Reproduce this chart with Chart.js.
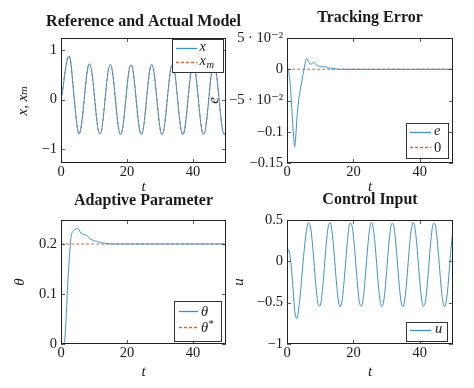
<!DOCTYPE html>
<html>
<head>
<meta charset="utf-8">
<script src="https://cdn.jsdelivr.net/npm/chart.js@4.4.1/dist/chart.umd.min.js"></script>
<style>
html,body{margin:0;padding:0;background:#fff;}
#wrap{position:relative;width:474px;height:388px;overflow:hidden;background:#fff;}
#wrap canvas{position:absolute;left:0;top:0;}
</style>
</head>
<body>
<div id="wrap">
<canvas id="c1" width="474" height="388"></canvas>
<canvas id="c2" width="474" height="388"></canvas>
<canvas id="c3" width="474" height="388"></canvas>
<canvas id="c4" width="474" height="388"></canvas>
</div>
<script>
// ---------------- data ----------------
const tSim = [0,0.5,1,1.5,2,2.5,3,3.5,4,4.5,5,5.5,6,6.5,7,7.5,8,8.5,9,9.5,10,10.5,11,11.5,12,12.5,13,13.5,14,14.5,15,15.5,16,16.5,17,17.5,18,18.5,19,19.5,20,20.5,21,21.5,22,22.5,23,23.5,24,24.5,25,25.5,26,26.5,27,27.5,28,28.5,29,29.5,30,30.5,31,31.5,32,32.5,33,33.5,34,34.5,35,35.5,36,36.5,37,37.5,38,38.5,39,39.5,40,40.5,41,41.5,42,42.5,43,43.5,44,44.5,45,45.5,46,46.5,47,47.5,48,48.5,49,49.5,50];

const xActual = [0,0.18,0.43,0.66,0.82,0.87,0.73,0.38,0.02,-0.325,-0.583,-0.69,-0.584,-0.343,-0.022,0.319,0.591,0.719,0.676,0.473,0.159,-0.193,-0.494,-0.672,-0.684,-0.528,-0.240,0.106,0.429,0.646,0.705,0.592,0.335,-0.005,-0.343,-0.598,-0.706,-0.641,-0.419,-0.095,0.252,0.538,0.692,0.677,0.496,0.193,-0.157,-0.468,-0.665,-0.699,-0.562,-0.287,0.058,0.389,0.624,0.707,0.617,0.375,0.042,-0.301,-0.571,-0.701,-0.659,-0.456,-0.141,0.208,0.507,0.681,0.689,0.528,0.238,-0.111,-0.432,-0.647,-0.704,-0.589,-0.329,0.011,0.349,0.601,0.706,0.638,0.414,0.089,-0.258,-0.542,-0.693,-0.675,-0.491,-0.187,0.163,0.473,0.667,0.698,0.558,0.281,-0.064,-0.394,-0.627,-0.707,-0.614];

const xModel = [0,0.20,0.47,0.70,0.85,0.88,0.72,0.40,0.04,-0.31,-0.58,-0.70,-0.60,-0.355,-0.03,0.31,0.58,0.71,0.67,0.468,0.154,-0.197,-0.498,-0.676,-0.687,-0.530,-0.242,0.105,0.428,0.645,0.705,0.592,0.335,-0.005,-0.343,-0.598,-0.706,-0.641,-0.419,-0.095,0.252,0.538,0.692,0.677,0.496,0.193,-0.157,-0.468,-0.665,-0.699,-0.562,-0.287,0.058,0.389,0.624,0.707,0.617,0.375,0.042,-0.301,-0.571,-0.701,-0.659,-0.456,-0.141,0.208,0.507,0.681,0.689,0.528,0.238,-0.111,-0.432,-0.647,-0.704,-0.589,-0.329,0.011,0.349,0.601,0.706,0.638,0.414,0.089,-0.258,-0.542,-0.693,-0.675,-0.491,-0.187,0.163,0.473,0.667,0.698,0.558,0.281,-0.064,-0.394,-0.627,-0.707,-0.614];

const uInput = [0.10,0.14,0.04,-0.16,-0.43,-0.65,-0.69,-0.58,-0.40,-0.17,0.06,0.26,0.40,0.467,0.430,0.279,0.049,-0.203,-0.415,-0.535,-0.534,-0.412,-0.199,0.053,0.282,0.432,0.467,0.377,0.186,-0.061,-0.303,-0.480,-0.550,-0.494,-0.328,-0.091,0.159,0.360,0.463,0.443,0.304,0.082,-0.171,-0.391,-0.525,-0.541,-0.434,-0.231,0.020,0.255,0.418,0.469,0.396,0.215,-0.028,-0.274,-0.462,-0.548,-0.509,-0.355,-0.124,0.127,0.338,0.456,0.452,0.329,0.114,-0.138,-0.366,-0.514,-0.546,-0.455,-0.262,-0.014,0.227,0.403,0.470,0.412,0.244,0.006,-0.243,-0.443,-0.543,-0.521,-0.381,-0.157,0.095,0.314,0.447,0.460,0.351,0.146,-0.104,-0.339,-0.500,-0.549,-0.473,-0.292,-0.048,0.198,0.385];

const tErr = [0,0.5,1,1.5,2,2.3,2.6,3,3.5,4,4.5,5,5.5,5.9,6.5,7,7.5,8,8.5,9,9.5,10,10.5,11,11.5,12,12.5,13,13.5,14,14.5,15,15.5,16,50];
const errVals = [0,-0.004,-0.025,-0.068,-0.108,-0.124,-0.11,-0.078,-0.05,-0.033,-0.018,-0.003,0.01,0.017,0.012,0.008,0.009,0.011,0.009,0.006,0.005,0.005,0.004,0.004,0.004,0.003,0.002,0.002,0.001,0.001,0.001,0.0005,0,0,0];

const tTheta = [0,0.5,1,1.5,2,2.5,3,3.5,4,4.5,5,5.5,6,6.5,7,7.5,8,8.5,9,9.5,10,10.5,11,11.5,12,12.5,13,13.5,14,14.5,15,15.5,16,50];
const thetaVals = [0,0,0.003,0.045,0.115,0.17,0.212,0.225,0.228,0.23,0.232,0.228,0.222,0.22,0.219,0.218,0.216,0.213,0.21,0.208,0.206,0.206,0.205,0.204,0.203,0.202,0.202,0.201,0.201,0.2005,0.2,0.2,0.2,0.2];

const tRef = [0,50];
const zeroRef = [0,0];
const thetaStar = [0.2,0.2];

const xTicks = [0,20,40];
const xTickLabels = ['0','20','40'];
const yTicks1 = [-1,0,1];
const yTickLabels1 = ['\u22121','0','1'];
const yTicks2 = [-0.15,-0.1,-0.05,0,0.05];
const yTickLabels2 = ['\u22120.15','\u22120.1','\u22125 \u00b7 10\u207b\u00b2','0','5 \u00b7 10\u207b\u00b2'];
const yTicks3 = [0,0.1,0.2];
const yTickLabels3 = ['0','0.1','0.2'];
const yTicks4 = [-1,-0.5,0,0.5];
const yTickLabels4 = ['\u22121','\u22120.5','0','0.5'];

// ---------------- styling / layout ----------------
const FONT = "'Liberation Serif','DejaVu Serif',serif";
const BLUE = 'rgb(60,145,208)';
const ORANGE = 'rgb(222,100,55)';
const TXT = '#1a1a1a';

function pts(ts, vs){ return ts.map((t,i)=>({x:t,y:vs[i]})); }

const decor = {
  id:'decor',
  afterDraw(chart, args, o){
    const ctx = chart.ctx, a = chart.chartArea, xs = chart.scales.x, ys = chart.scales.y;
    ctx.save();
    ctx.strokeStyle = '#333'; ctx.lineWidth = 0.8;
    ctx.beginPath();
    xs.ticks.forEach(t=>{
      const p = Math.round(xs.getPixelForValue(t.value))+0.5;
      ctx.moveTo(p,a.bottom); ctx.lineTo(p,a.bottom-4);
      ctx.moveTo(p,a.top); ctx.lineTo(p,a.top+4);
    });
    ys.ticks.forEach(t=>{
      const p = Math.round(ys.getPixelForValue(t.value))+0.5;
      ctx.moveTo(a.left,p); ctx.lineTo(a.left+4,p);
      ctx.moveTo(a.right,p); ctx.lineTo(a.right-4,p);
    });
    ctx.stroke();
    ctx.strokeStyle = '#222'; ctx.lineWidth = 1;
    ctx.strokeRect(a.left+0.5, a.top+0.5, a.right-a.left-1, a.bottom-a.top-1);
    // title
    ctx.fillStyle = TXT;
    ctx.font = 'bold 16px ' + FONT;
    ctx.textAlign = 'center'; ctx.textBaseline = 'alphabetic';
    ctx.fillText(o.title, (a.left+a.right)/2, o.titleBase);
    // legend
    const L = o.legend;
    ctx.fillStyle = '#fff';
    ctx.fillRect(L.x, L.y, L.w, L.h);
    ctx.strokeStyle = '#333'; ctx.lineWidth = 1;
    ctx.strokeRect(L.x+0.5, L.y+0.5, L.w, L.h);
    chart.data.datasets.forEach((ds,i)=>{
      const y = L.rows[i] + 0.5;
      ctx.strokeStyle = ds.borderColor; ctx.lineWidth = 1.3;
      ctx.setLineDash(ds.borderDash || []);
      ctx.beginPath(); ctx.moveTo(L.s0,y); ctx.lineTo(L.s1,y); ctx.stroke();
      ctx.setLineDash([]);
      const it = L.items[i];
      ctx.fillStyle = TXT; ctx.textAlign = 'left'; ctx.textBaseline = 'alphabetic';
      ctx.font = (it.upright ? '' : 'italic ') + '14.5px ' + FONT;
      const base = L.rows[i] + it.dy;
      ctx.fillText(it.t, L.tx, base);
      const w = ctx.measureText(it.t).width;
      if (it.sub){ ctx.font = 'italic 10.5px ' + FONT; ctx.fillText(it.sub, L.tx + w + 0.5, base + 2.5); }
      if (it.sup){ ctx.font = '10.5px ' + FONT; ctx.fillText(it.sup, L.tx + w + 0.5, base - 5.5); }
    });
    ctx.restore();
  }
};

function panel(id, s){
  return new Chart(document.getElementById(id), {
    type:'line',
    data:{datasets: s.sets.map(d=>({
      label:d.label, data:pts(d.t,d.v), borderColor:d.color, borderWidth:1,
      borderDash:d.dash||[], pointRadius:0, fill:false,
      tension:0.4, cubicInterpolationMode:d.mode||'default'
    }))},
    options:{
      responsive:false, animation:false, devicePixelRatio:1, events:[],
      layout:{padding:{left:s.L - s.yW, right:474 - s.R, top:s.T, bottom:388 - s.B - s.xH}},
      plugins:{legend:{display:false}, tooltip:{enabled:false}, decor:s.decor},
      scales:{
        x:{type:'linear', min:0, max:50,
          afterBuildTicks:sc=>{ sc.ticks = xTicks.map(v=>({value:v})); },
          afterFit:sc=>{ sc.height = s.xH; },
          grid:{display:false, drawTicks:false}, border:{display:false},
          ticks:{padding:0, maxRotation:0, autoSkip:false, color:TXT, font:{family:FONT, size:14.5},
            callback:(v,i)=>xTickLabels[i]},
          title:{display:true, text:'t', color:TXT, padding:0, font:{family:FONT, size:15, style:'italic'}}
        },
        y:{type:'linear', min:s.yMin, max:s.yMax,
          afterBuildTicks:sc=>{ sc.ticks = s.yTicks.map(v=>({value:v})); },
          afterFit:sc=>{ sc.width = s.yW; },
          grid:{display:false, drawTicks:false}, border:{display:false},
          ticks:{padding:4, autoSkip:false, color:TXT, font:{family:FONT, size:14.5},
            callback:(v,i)=>s.yLabels[i]},
          title:{display:true, text:s.yTitle, color:TXT, padding:0, font:{family:FONT, size:15, style:'italic'}}
        }
      }
    },
    plugins:[decor]
  });
}

panel('c1', {
  L:61, R:226, T:38, B:163, yW:47, xH:33,
  yMin:-1.28, yMax:1.24, yTicks:yTicks1, yLabels:yTickLabels1, yTitle:'x, x\u2098',
  sets:[{label:'x', t:tSim, v:xActual, color:BLUE},
        {label:'x_m', t:tSim, v:xModel, color:ORANGE, dash:[3,2]}],
  decor:{title:'Reference and Actual Model', titleBase:25.6,
    legend:{x:172, y:39, w:51, h:33, rows:[48,62], s0:176, s1:197, tx:199.5,
      items:[{t:'x', dy:3.4},{t:'x', sub:'m', dy:3.4}]}}
});

panel('c2', {
  L:287, R:453, T:38, B:163, yW:82, xH:33,
  yMin:-0.15, yMax:0.05, yTicks:yTicks2, yLabels:yTickLabels2, yTitle:'e',
  sets:[{label:'e', t:tErr, v:errVals, color:BLUE, mode:'monotone'},
        {label:'0', t:tRef, v:zeroRef, color:ORANGE, dash:[3,2]}],
  decor:{title:'Tracking Error', titleBase:22.3,
    legend:{x:406, y:123, w:42, h:35, rows:[132,147], s0:410, s1:431, tx:434,
      items:[{t:'e', dy:3.4},{t:'0', upright:true, dy:4.8}]}}
});

panel('c3', {
  L:61, R:226, T:220, B:344, yW:50, xH:37,
  yMin:0, yMax:0.248, yTicks:yTicks3, yLabels:yTickLabels3, yTitle:'\u03b8',
  sets:[{label:'theta', t:tTheta, v:thetaVals, color:BLUE, mode:'monotone'},
        {label:'theta*', t:tRef, v:thetaStar, color:ORANGE, dash:[3,2]}],
  decor:{title:'Adaptive Parameter', titleBase:205.3,
    legend:{x:174, y:301, w:47, h:40, rows:[311,327], s0:179, s1:198, tx:201,
      items:[{t:'\u03b8', dy:5},{t:'\u03b8', sup:'*', dy:5}]}}
});

panel('c4', {
  L:287, R:453, T:220, B:344, yW:57, xH:37,
  yMin:-1, yMax:0.5, yTicks:yTicks4, yLabels:yTickLabels4, yTitle:'u',
  sets:[{label:'u', t:tSim, v:uInput, color:BLUE}],
  decor:{title:'Control Input', titleBase:204.3,
    legend:{x:406, y:322, w:41, h:19, rows:[330], s0:410, s1:431, tx:435,
      items:[{t:'u', dy:3.4}]}}
});
</script>
</body>
</html>
